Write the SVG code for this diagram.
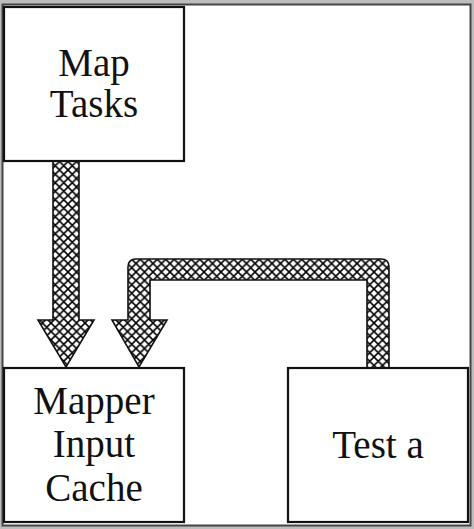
<svg xmlns="http://www.w3.org/2000/svg" width="474" height="529" viewBox="0 0 474 529">
<defs>
<pattern id="hatch" patternUnits="userSpaceOnUse" width="8.5" height="8.5">
<rect width="8.5" height="8.5" fill="#fff"/>
<path d="M0,0 L8.5,8.5 M0,8.5 L8.5,0 M-1,1 L1,-1 M7.5,9.5 L9.5,7.5 M-1,7.5 L1,9.5 M7.5,-1 L9.5,1" stroke="#000" stroke-width="1.6"/>
</pattern>
<style>
.box{fill:#fff;stroke:#111;stroke-width:2.2}
.lbl{font-family:"Liberation Serif",serif;font-size:39px;fill:#111;text-anchor:middle}
.arrow{fill:url(#hatch);stroke:#111;stroke-width:1.6;stroke-linejoin:miter}
</style>
</defs>
<rect width="474" height="529" fill="#bdbdbd"/>
<rect x="2.5" y="4.5" width="468" height="521" fill="#fff" stroke="#444" stroke-width="2"/>
<g id="connectors">
<path class="arrow" d="M53,161 L79,161 L79,320 L94,320 L66,367 L38,320 L53,320 Z"/>
<path class="arrow" d="M389,368 L389,267 Q389,259 381,259 L136,259 Q128,259 128,267 L128,320 L112,320 L139,367 L167,320 L150,320 L150,280 L367,280 L367,368 Z"/>
</g>
<g id="map-tasks">
<rect class="box" x="4" y="7" width="180" height="154"/>
<text class="lbl" x="94" y="76">Map</text>
<text class="lbl" x="94" y="117">Tasks</text>
</g>
<g id="mapper-input-cache">
<rect class="box" x="4" y="368" width="180" height="154"/>
<text class="lbl" x="94" y="414">Mapper</text>
<text class="lbl" x="94" y="457">Input</text>
<text class="lbl" x="94" y="501">Cache</text>
</g>
<g id="test-a">
<rect class="box" x="288" y="368" width="180" height="154"/>
<text class="lbl" x="378" y="458">Test a</text>
</g>
</svg>
